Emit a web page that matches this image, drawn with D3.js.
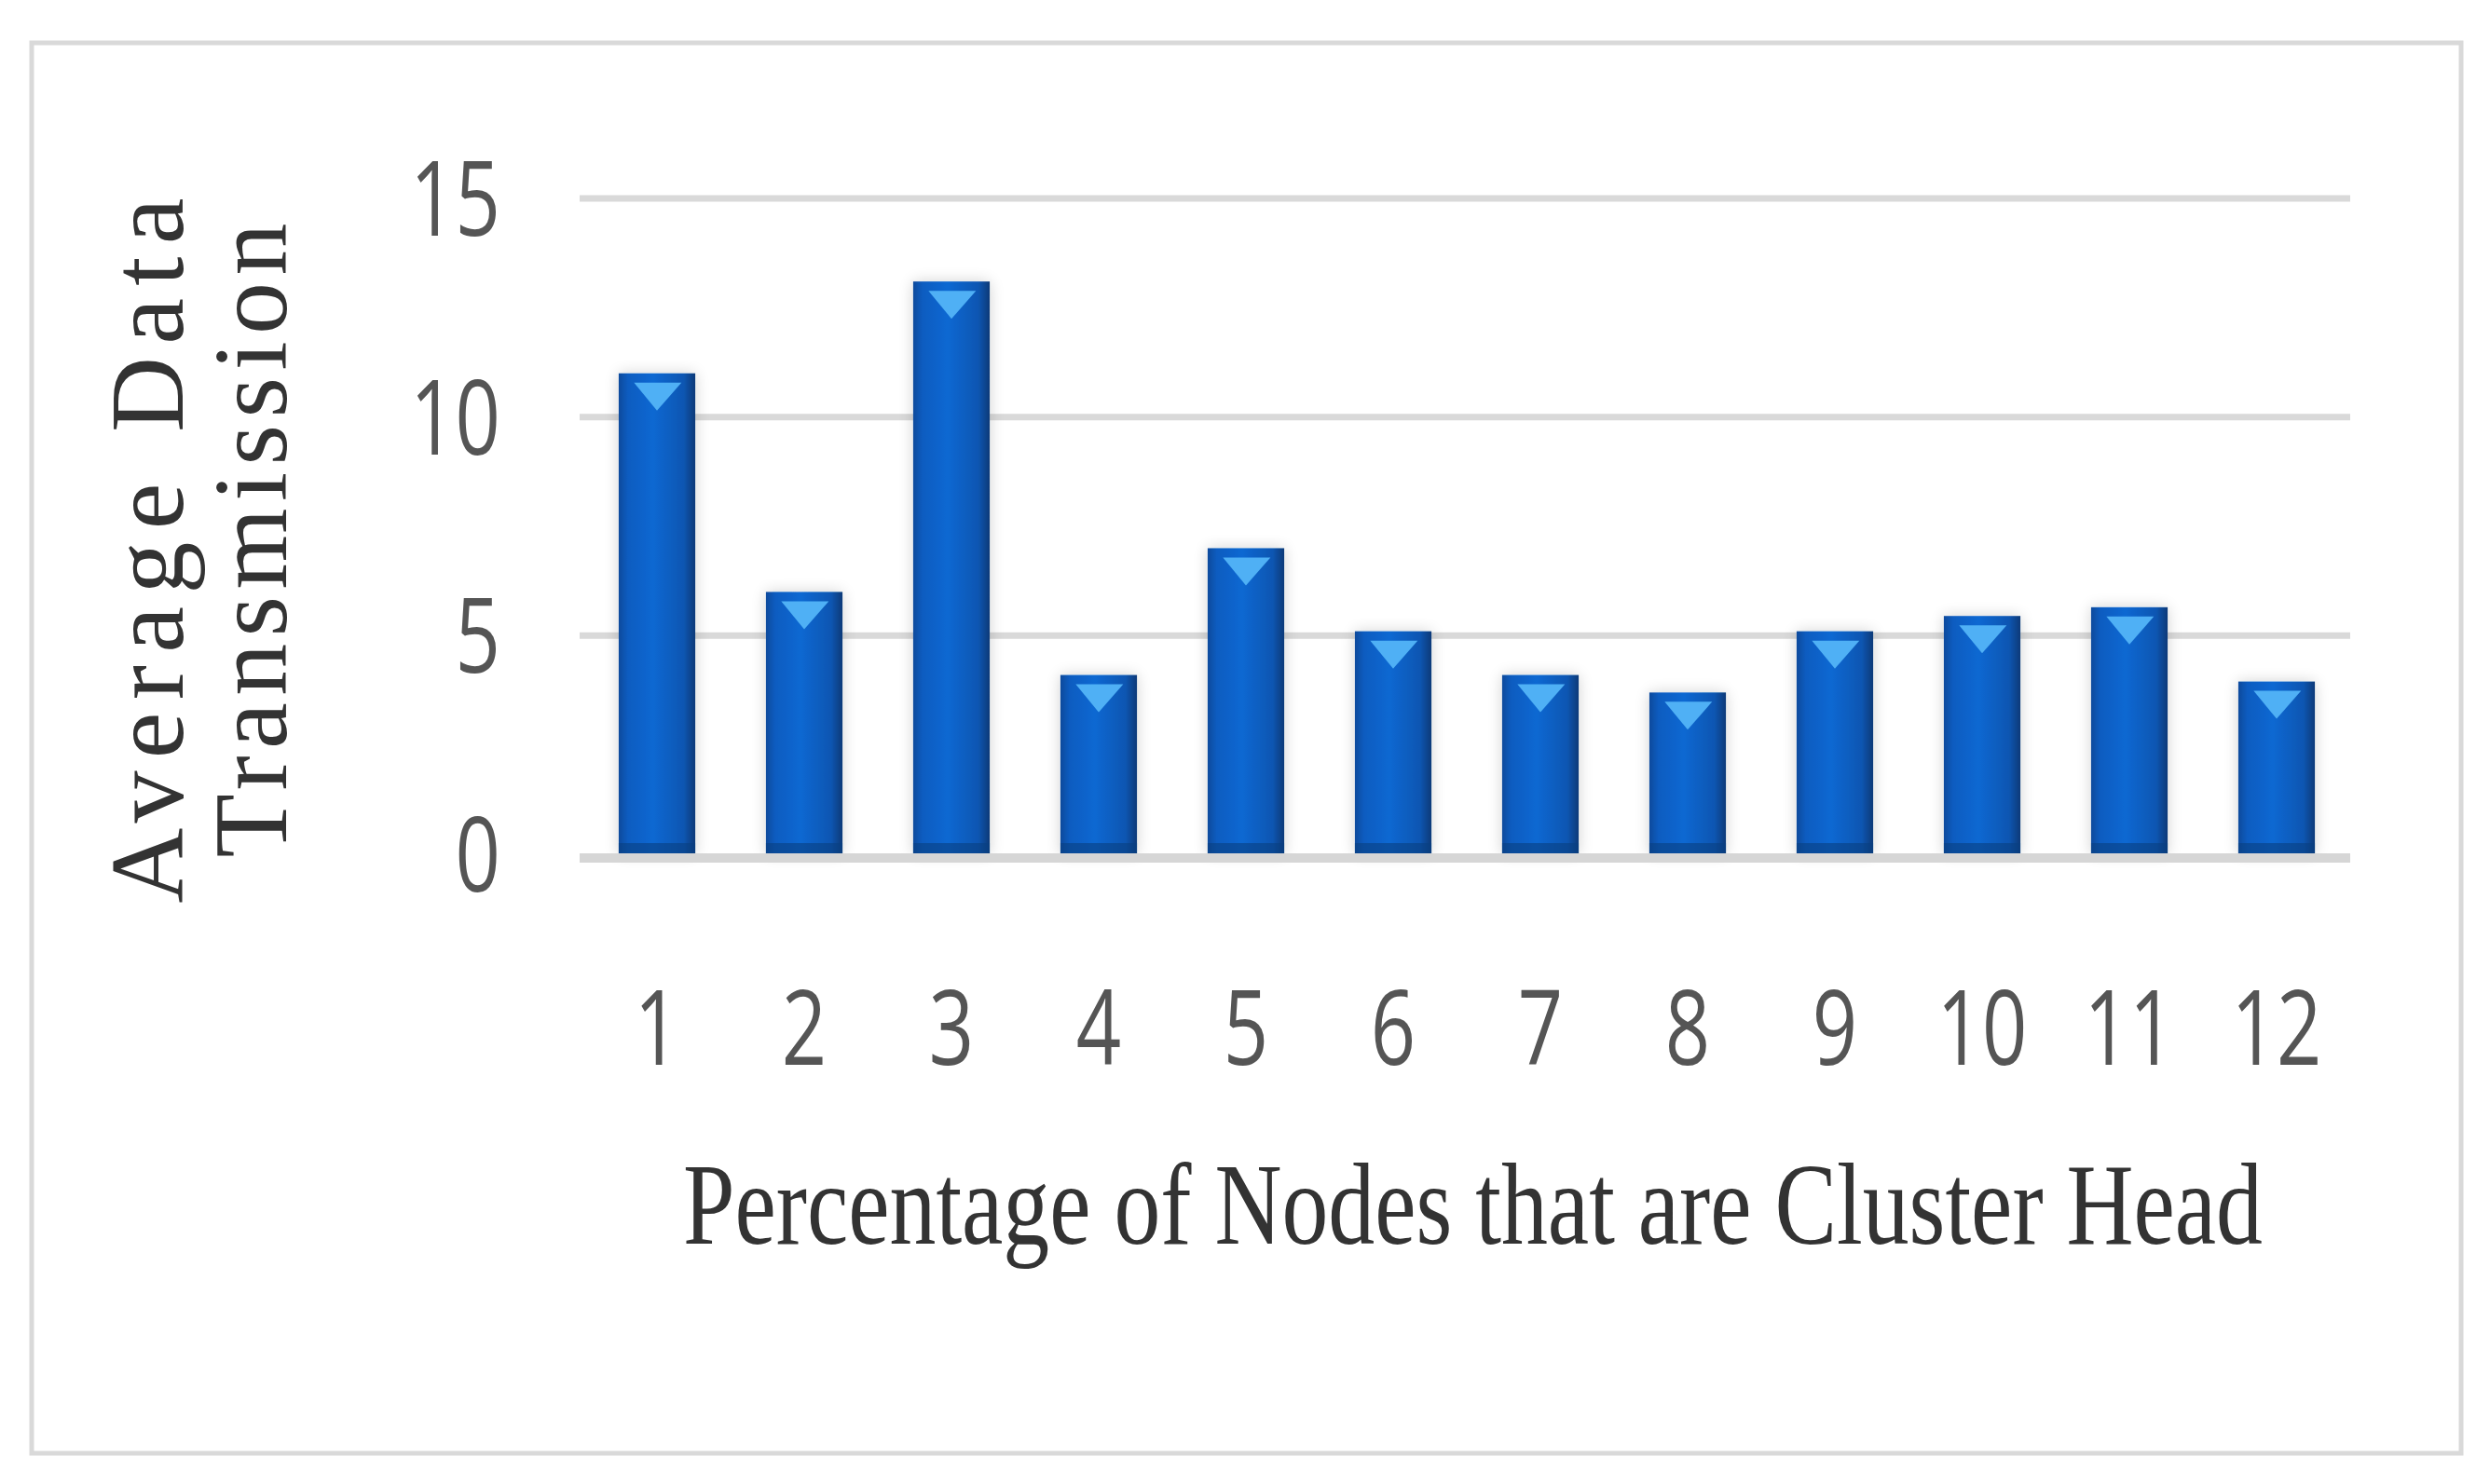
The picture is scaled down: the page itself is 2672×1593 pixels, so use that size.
<!DOCTYPE html>
<html>
<head>
<meta charset="utf-8">
<script src="https://cdn.jsdelivr.net/npm/d3@7"></script>
<style>
  body { margin: 0; background: #fff; }
</style>
</head>
<body>
<div class="visHolder"></div>
<script>
let categories = ['1', '2', '3', '4', '5', '6', '7', '8', '9', '10', '11', '12'];
let values = [11.0, 6.0, 13.1, 4.1, 7.0, 5.1, 4.1, 3.7, 5.1, 5.45, 5.65, 3.95];
let yTicks = [0, 5, 10, 15];

let width = 2672;
let height = 1593;

let svg = d3.select('.visHolder').append('svg')
  .attr('width', width)
  .attr('height', height);

let defs = svg.append('defs');
let grad = defs.append('linearGradient').attr('id', 'barGrad')
  .attr('x1', '0').attr('x2', '1').attr('y1', '0').attr('y2', '0');
grad.append('stop').attr('offset', '0%').attr('stop-color', '#0d4a9c');
grad.append('stop').attr('offset', '12%').attr('stop-color', '#0a5cc0');
grad.append('stop').attr('offset', '45%').attr('stop-color', '#0b68d2');
grad.append('stop').attr('offset', '85%').attr('stop-color', '#0956b2');
grad.append('stop').attr('offset', '100%').attr('stop-color', '#083a78');

let shadow = defs.append('filter').attr('id', 'shadow')
  .attr('x', '-30%').attr('y', '-10%').attr('width', '160%').attr('height', '120%');
shadow.append('feGaussianBlur').attr('in', 'SourceAlpha').attr('stdDeviation', 8).attr('result', 'b');
shadow.append('feComponentTransfer').append('feFuncA').attr('type', 'linear').attr('slope', 0.18);
let merge = shadow.append('feMerge');
merge.append('feMergeNode');
merge.append('feMergeNode').attr('in', 'SourceGraphic');

// frame
svg.append('rect')
  .attr('x', 34).attr('y', 46)
  .attr('width', 2607).attr('height', 1514)
  .attr('fill', 'none').attr('stroke', '#d9d9d9').attr('stroke-width', 5);

let xScale = d3.scaleBand()
  .domain(categories)
  .range([626, 2522])
  .paddingInner(0.48)
  .paddingOuter(0.24);

let yScale = d3.scaleLinear()
  .domain([0, 15])
  .range([917, 213]);

// gridlines
svg.append('g').selectAll('line')
  .data(yTicks.filter(d => d > 0))
  .join('line')
  .attr('x1', 622).attr('x2', 2522)
  .attr('y1', d => yScale(d)).attr('y2', d => yScale(d))
  .attr('stroke', '#d9d9d9').attr('stroke-width', 7);

// bars
let bars = svg.append('g').selectAll('g')
  .data(values)
  .join('g')
  .attr('transform', (d, i) => 'translate(' + xScale(categories[i]) + ',0)');

bars.append('rect')
  .attr('y', d => yScale(d))
  .attr('width', xScale.bandwidth())
  .attr('height', d => yScale(0) - yScale(d))
  .attr('fill', 'url(#barGrad)')
  .attr('filter', 'url(#shadow)');

bars.append('rect')
  .attr('y', d => yScale(0) - 12)
  .attr('width', xScale.bandwidth())
  .attr('height', 12)
  .attr('fill', '#083f80').attr('opacity', 0.6);

let bw = xScale.bandwidth();
bars.append('path')
  .attr('d', d => {
    let t = yScale(d) + 10;
    return 'M' + (bw * 0.2) + ',' + t + 'L' + (bw * 0.82) + ',' + t +
      'L' + (bw * 0.5) + ',' + (t + 30) + 'Z';
  })
  .attr('fill', '#4fb0f5');

// zero axis line
svg.append('line')
  .attr('x1', 622).attr('x2', 2522)
  .attr('y1', yScale(0) + 4).attr('y2', yScale(0) + 4)
  .attr('stroke', '#d6d6d6').attr('stroke-width', 10);

let tickFont = '"Liberation Sans Narrow", "Open Sans", sans-serif';

// y tick labels
svg.append('g').selectAll('text')
  .data(yTicks)
  .join('text')
  .attr('transform', d => 'translate(537,' + (yScale(d) + 40) + ') scale(0.92,1.22)')
  .attr('text-anchor', 'end')
  .attr('font-family', tickFont)
  .attr('font-size', 92)
  .attr('fill', '#555')
  .text(d => d);

// x tick labels
svg.append('g').selectAll('text')
  .data(categories)
  .join('text')
  .attr('transform', d => 'translate(' + (xScale(d) + bw / 2) + ',1143) scale(0.92,1.22)')
  .attr('text-anchor', 'middle')
  .attr('font-family', tickFont)
  .attr('font-size', 92)
  .attr('fill', '#555')
  .text(d => d);

// axis titles
svg.append('text')
  .attr('transform', 'translate(733,1335) scale(1,1.22)')
  .attr('textLength', 1695).attr('lengthAdjust', 'spacingAndGlyphs')
  .attr('font-family', '"Liberation Serif", serif')
  .attr('font-size', 102)
  .attr('fill', '#333')
  .text('Percentage of Nodes that are Cluster Head');

svg.append('text')
  .attr('transform', 'translate(196,591) rotate(-90)')
  .attr('text-anchor', 'middle')
  .attr('textLength', 757).attr('lengthAdjust', 'spacing')
  .attr('font-family', '"Liberation Serif", serif')
  .attr('font-size', 112)
  .attr('fill', '#333')
  .text('Average Data');

svg.append('text')
  .attr('transform', 'translate(307,580) rotate(-90)')
  .attr('text-anchor', 'middle')
  .attr('textLength', 681).attr('lengthAdjust', 'spacing')
  .attr('font-family', '"Liberation Serif", serif')
  .attr('font-size', 112)
  .attr('fill', '#333')
  .text('Transmission');
</script>
</body>
</html>
